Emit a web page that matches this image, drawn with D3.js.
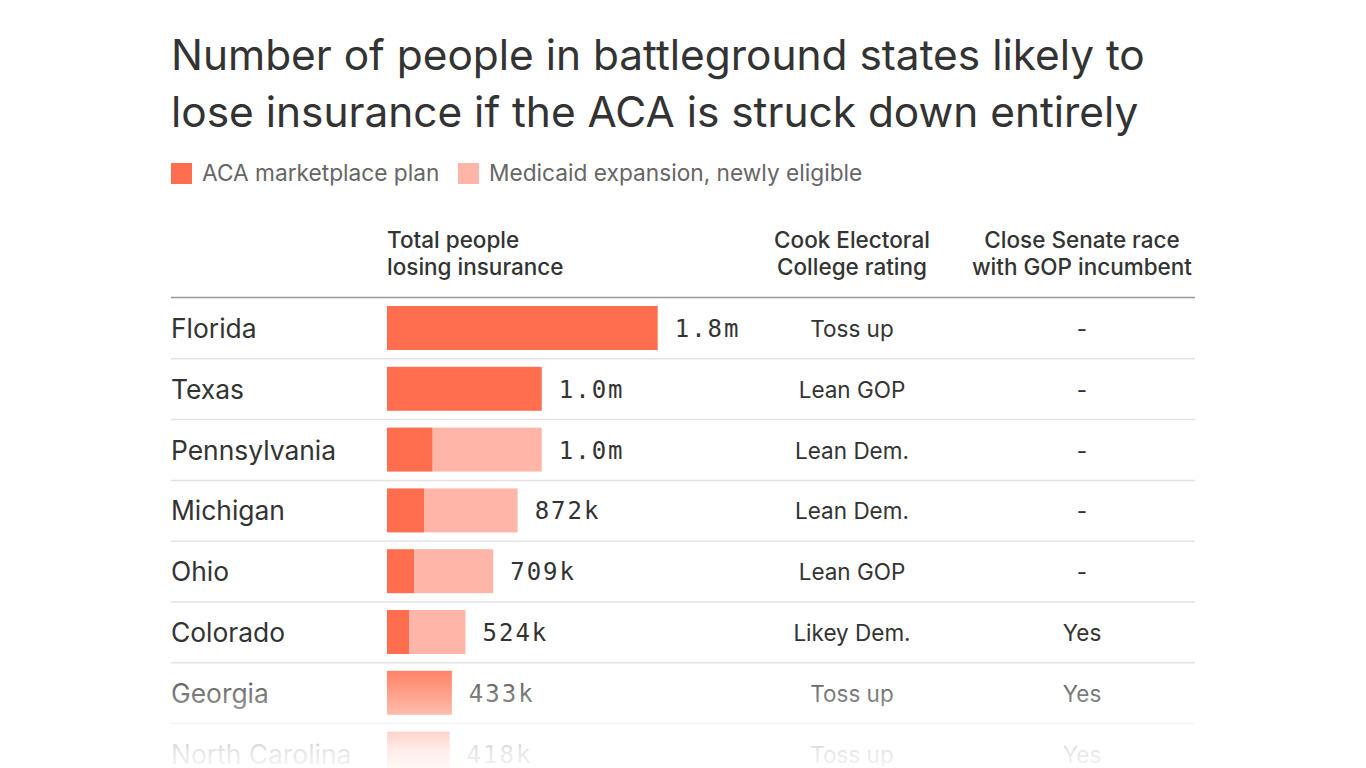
<!DOCTYPE html>
<html>
<head>
<meta charset="utf-8">
<script src="https://cdn.jsdelivr.net/npm/d3@7"></script>
<style>
  body { margin: 0; background: #fff; }
  text { font-family: Inter, "Noto Sans", sans-serif; }
  .mono { font-family: "DejaVu Sans Mono", monospace; }
</style>
</head>
<body>
<div id="chart"></div>
<script>
var states = ["Florida", "Texas", "Pennsylvania", "Michigan", "Ohio", "Colorado", "Georgia", "North Carolina"];
var marketplace = [1807000, 1033000, 305000, 247000, 183000, 150000, 433000, 418000];
var medicaid = [0, 0, 728000, 625000, 526000, 374000, 0, 0];
var totalLabels = ["1.8m", "1.0m", "1.0m", "872k", "709k", "524k", "433k", "418k"];
var cookRating = ["Toss up", "Lean GOP", "Lean Dem.", "Lean Dem.", "Lean GOP", "Likey Dem.", "Toss up", "Toss up"];
var senateRace = ["-", "-", "-", "-", "-", "Yes", "Yes", "Yes"];
var legendLabels = ["ACA marketplace plan", "Medicaid expansion, newly eligible"];

var darkColor = "#ff6f4f", lightColor = "#ffb6a8";

var width = 1366, height = 768;
var left = 171, right = 1195;
var barX = 387;

var svg = d3.select("#chart").append("svg")
  .attr("width", width)
  .attr("height", height);

// title
var title = svg.append("text")
  .attr("x", left)
  .attr("fill", "#333")
  .style("font-size", "42.4px");
title.append("tspan").attr("x", left).attr("y", 70).text("Number of people in battleground states likely to");
title.append("tspan").attr("x", left).attr("y", 127).text("lose insurance if the ACA is struck down entirely");

// legend
var legendX = [left, 458];
var legend = svg.selectAll(".legend")
  .data(legendLabels)
  .enter().append("g")
  .attr("class", "legend")
  .attr("transform", function(d, i) { return "translate(" + legendX[i] + ",163)"; });
legend.append("rect")
  .attr("width", 21).attr("height", 21)
  .attr("fill", function(d, i) { return i == 0 ? darkColor : lightColor; });
legend.append("text")
  .attr("x", 31).attr("y", 18)
  .attr("fill", "#666")
  .style("font-size", "22.7px")
  .text(function(d) { return d; });

// headers
var headers = [
  {x: barX, anchor: "start", lines: ["Total people", "losing insurance"]},
  {x: 852, anchor: "middle", lines: ["Cook Electoral", "College rating"]},
  {x: 1082, anchor: "middle", lines: ["Close Senate race", "with GOP incumbent"]}
];
headers.forEach(function(h) {
  var t = svg.append("text")
    .attr("text-anchor", h.anchor)
    .attr("fill", "#333")
    .style("font-size", "22.5px")
    .style("font-weight", 500);
  h.lines.forEach(function(l, i) {
    t.append("tspan").attr("x", h.x).attr("y", 248 + i * 27).text(l);
  });
});

svg.append("line")
  .attr("x1", left).attr("x2", right)
  .attr("y1", 297.5).attr("y2", 297.5)
  .attr("stroke", "#999").attr("stroke-width", 1.5);

var y = d3.scaleBand()
  .domain(states)
  .range([298, 298 + states.length * 60.8]);

var x = d3.scaleLinear()
  .domain([0, 2000000])
  .range([barX, barX + 299.6]);

var rows = svg.selectAll(".row")
  .data(states)
  .enter().append("g")
  .attr("class", "row")
  .attr("transform", function(d) { return "translate(0," + y(d) + ")"; });

rows.append("line")
  .attr("x1", left).attr("x2", right)
  .attr("y1", y.bandwidth()).attr("y2", y.bandwidth())
  .attr("stroke", "#e2e2e2").attr("stroke-width", 1.5);

rows.append("text")
  .attr("x", left).attr("y", 40)
  .attr("fill", "#333")
  .style("font-size", "26.4px")
  .text(function(d) { return d; });

rows.append("rect")
  .attr("x", x(0)).attr("y", 8)
  .attr("height", 44)
  .attr("width", function(d, i) { return x(marketplace[i]) - x(0); })
  .attr("fill", darkColor);

rows.append("rect")
  .attr("x", function(d, i) { return x(marketplace[i]); }).attr("y", 8)
  .attr("height", 44)
  .attr("width", function(d, i) { return x(marketplace[i] + medicaid[i]) - x(marketplace[i]); })
  .attr("fill", lightColor);

rows.append("text")
  .attr("class", "mono")
  .attr("x", function(d, i) { return x(marketplace[i] + medicaid[i]) + 17; })
  .attr("y", 39)
  .attr("fill", "#333")
  .style("font-size", "24px")
  .style("letter-spacing", "2px")
  .text(function(d, i) { return totalLabels[i]; });

rows.append("text")
  .attr("x", 852).attr("y", 39)
  .attr("text-anchor", "middle")
  .attr("fill", "#333")
  .style("font-size", "22.5px")
  .text(function(d, i) { return cookRating[i]; });

rows.append("text")
  .attr("x", 1082).attr("y", 39)
  .attr("text-anchor", "middle")
  .attr("fill", "#333")
  .style("font-size", "22.5px")
  .text(function(d, i) { return senateRace[i]; });

// white fade at the bottom
var grad = svg.append("defs").append("linearGradient")
  .attr("id", "fade")
  .attr("x1", 0).attr("x2", 0).attr("y1", 0).attr("y2", 1);
grad.append("stop").attr("offset", "0").attr("stop-color", "#fff").attr("stop-opacity", 0);
grad.append("stop").attr("offset", "0.4").attr("stop-color", "#fff").attr("stop-opacity", 0.4);
grad.append("stop").attr("offset", "0.85").attr("stop-color", "#fff").attr("stop-opacity", 0.88);
grad.append("stop").attr("offset", "1").attr("stop-color", "#fff").attr("stop-opacity", 0.95);

svg.append("rect")
  .attr("x", 0).attr("y", 655)
  .attr("width", width).attr("height", height - 655)
  .attr("fill", "url(#fade)");
</script>
</body>
</html>
